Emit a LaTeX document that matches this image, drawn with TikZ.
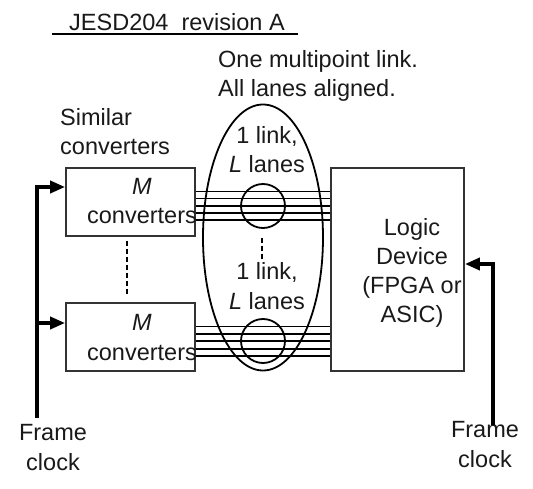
\documentclass[tikz,border=0pt]{standalone}
\usepackage{fontspec}
\setmainfont{Liberation Sans}
\usetikzlibrary{arrows.meta,calc,shapes.geometric}
\begin{document}
\begin{tikzpicture}[x=1pt,y=-1pt,
  txt/.style={font=\fontsize{23.5}{29.3}\selectfont, inner sep=0pt, text=black!90},
  box/.style={draw=black!80, line width=1.8pt, inner sep=0pt},
  lane/.style={line width=1.8pt},
  ring/.style={draw, circle, line width=1.8pt, minimum size=44pt, inner sep=0pt},
  dots/.style={line width=2pt, dash pattern=on 5pt off 3pt},
  clk/.style={line width=3.6pt, -{Triangle[length=15pt,width=12pt]}},
  ]
\useasboundingbox (0,0) rectangle (533,489);
% title
\node[txt, anchor=base] (title) at (177,31) {JESD204\ \ revision A};
\draw[line width=1.3pt] (52,34) -- (298,34);
% captions (base = last line)
\node[txt, anchor=base west, align=left] (cap) at (218,97) {One multipoint link.\\All lanes aligned.};
\node[txt, anchor=base west, align=left] (sim) at (60,155) {Similar\\converters};
% boxes
\node[box, minimum width=129pt, minimum height=68pt] (c1) at (130.5,202) {};
\node[box, minimum width=129pt, minimum height=68pt] (c2) at (130.5,337) {};
\node[box, minimum width=133pt, minimum height=203pt] (logic) at (397.5,269.5) {};
\node[txt, anchor=base, align=center] (c1t) at (142,224) {\itshape M\\converters};
\node[txt, anchor=base, align=center] (c2t) at (142,360) {\itshape M\\converters};
\node[txt, anchor=base, align=center] (lt) at (412,323) {Logic\\Device\\(FPGA or\\ASIC)};
% link ellipse and rings
\node[draw, ellipse, line width=1.8pt, minimum width=120pt, minimum height=266pt, inner sep=0pt] (link) at (263,237.5) {};
\node[txt, anchor=base, align=center] (l1t) at (267,173) {1 link,\\\itshape L\upshape{} lanes};
\node[txt, anchor=base, align=center] (l2t) at (267,309) {1 link,\\\itshape L\upshape{} lanes};
% lanes
\foreach \y in {191.5,198.6,205.8,212.9,220} {
  \draw[lane] (c1.east |- 0,\y) -- (logic.west |- 0,\y);
}
\foreach \y in {326.5,334,341.2,348.6,356} {
  \draw[lane] (c2.east |- 0,\y) -- (logic.west |- 0,\y);
}
\node[ring] (r1) at (263,206) {};
\node[ring] (r2) at (263,341) {};
% dotted continuations
\draw[dots] ($(c1.south)+(-3.5,4)$) -- ($(c2.north)+(-3.5,-6)$);
\draw[dots] ($(r1.south)+(-1,9)$) -- ($(r1.south)+(-1,30)$);
% frame clocks
\node[txt, anchor=base, align=center] (fcl) at (53,470) {Frame\\clock};
\node[txt, anchor=base, align=center] (fcr) at (485,467) {Frame\\clock};
\coordinate (fclTop) at (37,418);
\coordinate (fcrTop) at (493,425);
\draw[clk] (fclTop) |- (c1.west |- 0,187);
\draw[clk] (37,323) -- (c2.west |- 0,323);
\draw[clk] (fcrTop) |- (logic.east |- 0,264);
\end{tikzpicture}
\end{document}
